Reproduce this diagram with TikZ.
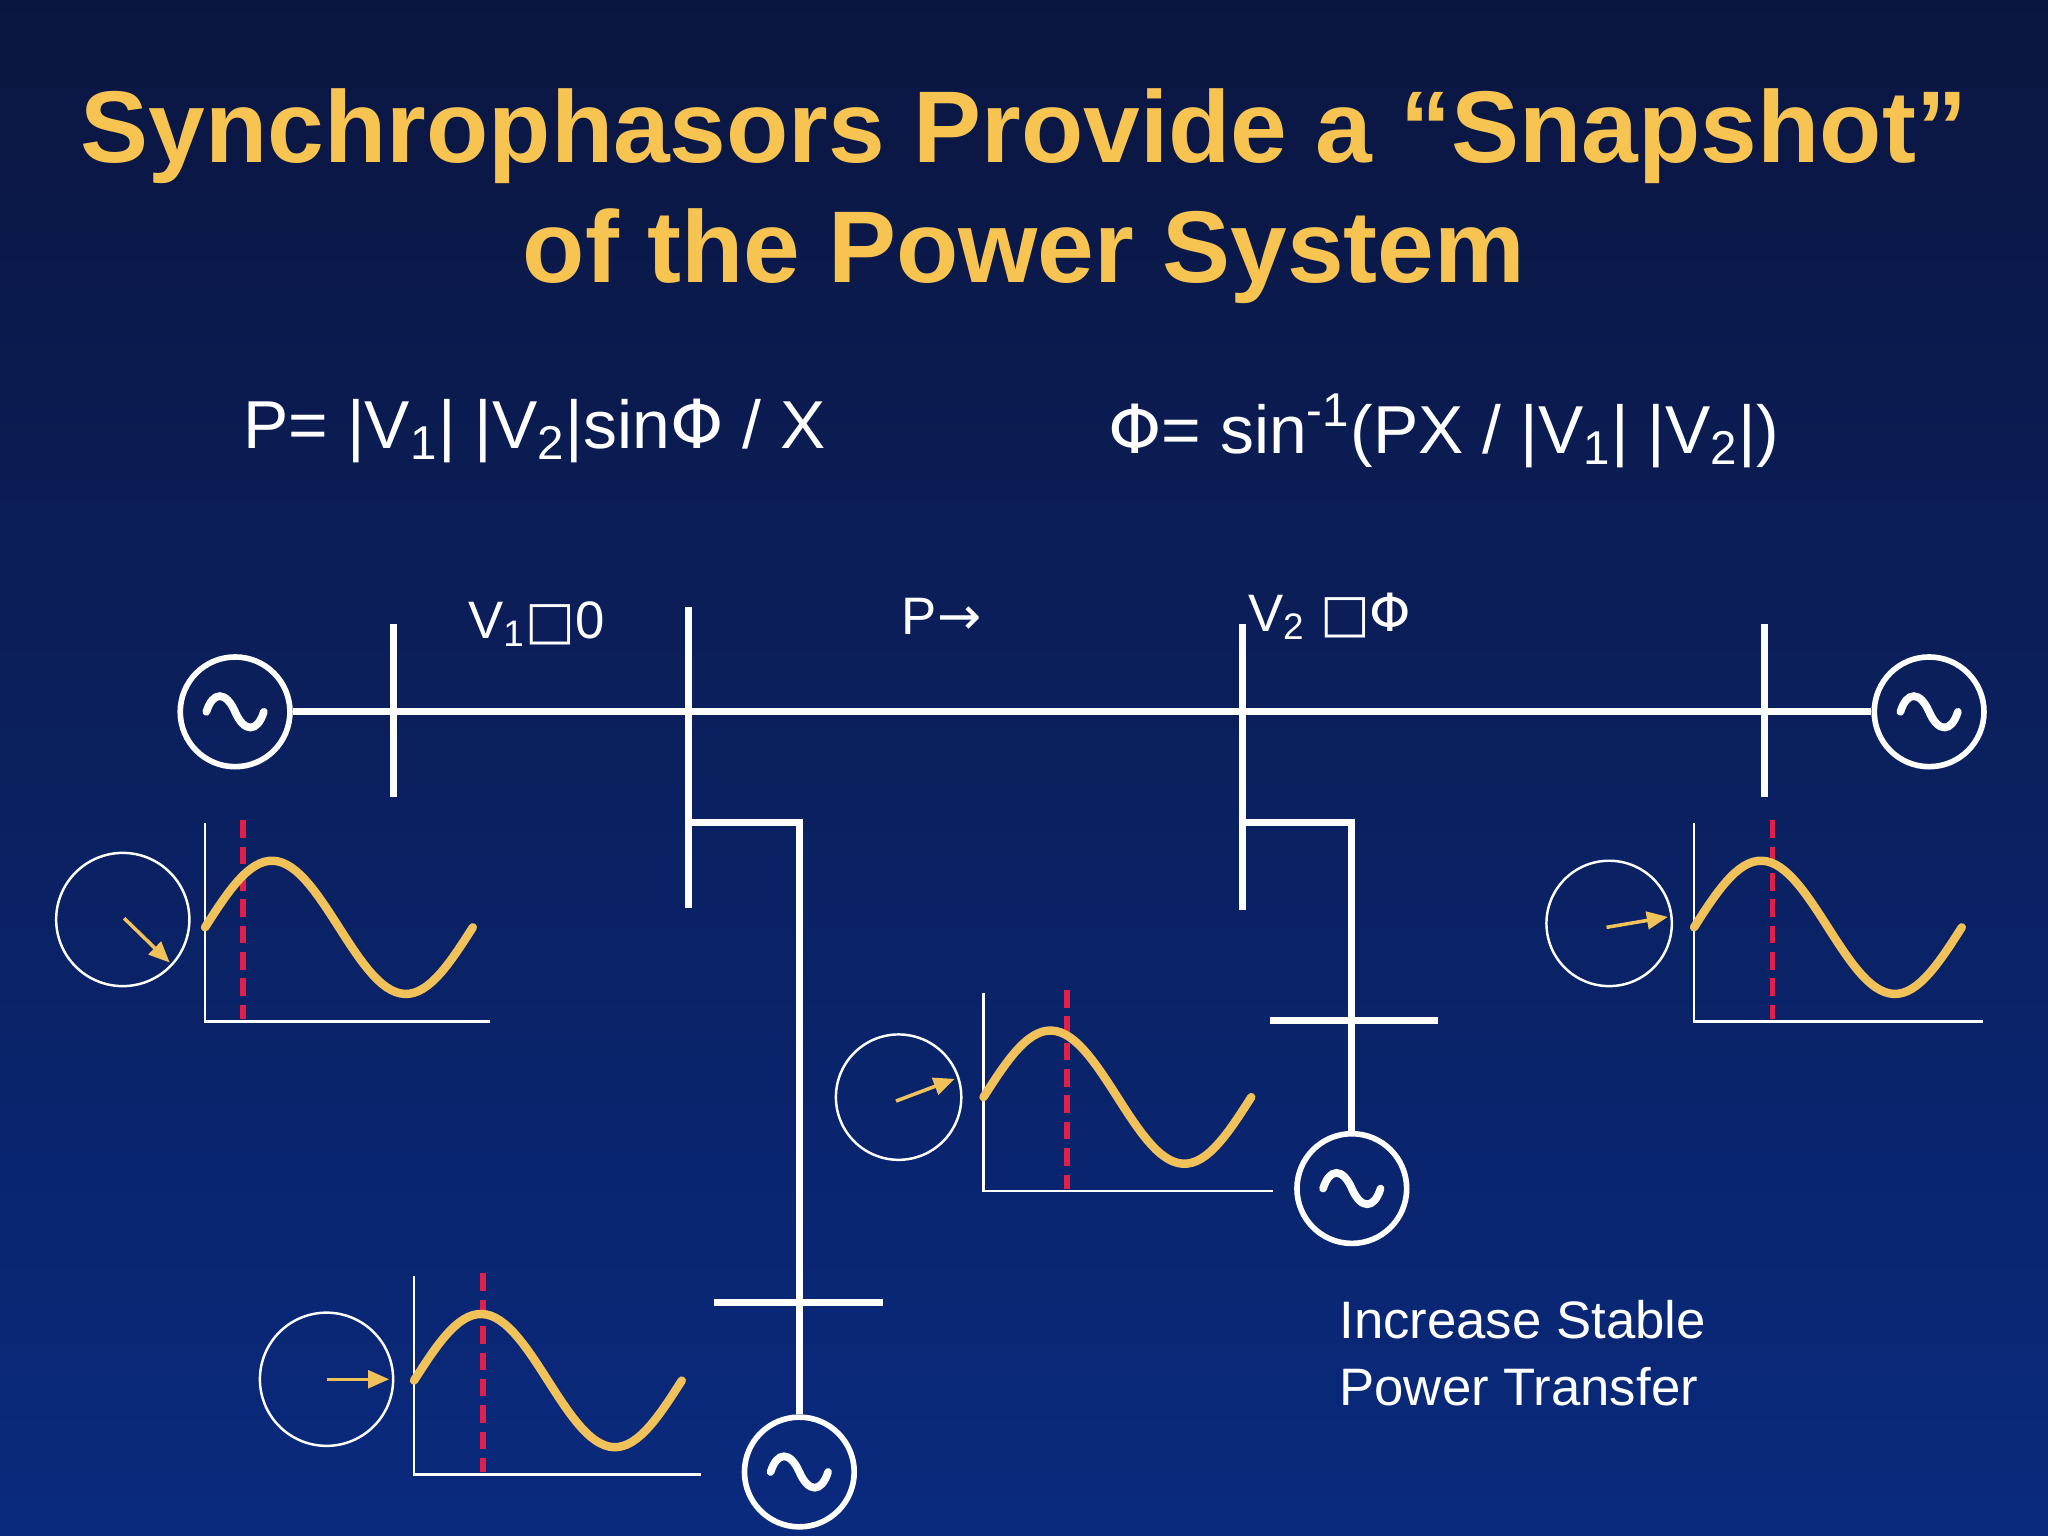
\documentclass[tikz,border=0pt]{standalone}
\usepackage{fontspec}
\setmainfont{Liberation Sans}
\newfontfamily\djv{DejaVu Sans}
\usetikzlibrary{arrows.meta}
\definecolor{ttl}{HTML}{F7C452}
\definecolor{wav}{HTML}{F2C25A}
\definecolor{bgtop}{HTML}{0B1640}
\definecolor{bgbot}{HTML}{0A2A7E}
\definecolor{rd}{HTML}{E0204A}
\tikzset{
 wire/.style={white,line width=2pt},
 gen/.style={circle,draw=white,line width=1.6pt,minimum size=84*0.01306cm,inner sep=0pt},
 ph/.style={circle,draw=white,line width=0.7pt,inner sep=0pt},
 axis/.style={white,line width=0.7pt},
 wave/.style={wav,line width=2.4pt,line cap=round},
 mark line/.style={rd,line width=1.6pt,dash pattern=on 5pt off 2.5pt},
 parr/.style={wav,line width=1pt,-{Triangle[length=6pt,width=5pt]}},
 lbl/.style={white,font=\fontsize{15}{17}\selectfont,inner sep=0pt,anchor=west},
}
\begin{document}
\begin{tikzpicture}[x=0.01306cm,y=-0.01306cm]
\shade[top color=bgtop,bottom color=bgbot] (0,0) rectangle (1568,1176);
\useasboundingbox (0,0) rectangle (1568,1176);
\node[ttl,font=\fontsize{29}{34}\bfseries\selectfont,align=center] (title) at (784,150) {Synchrophasors Provide a “Snapshot”\\of the Power System};
\node[lbl,font=\fontsize{19.3}{22}\selectfont] (f1) at (186,330) {P= |V\textsubscript{1}| |V\textsubscript{2}|sin{\djv Φ} / X};
\node[lbl,font=\fontsize{19.3}{22}\selectfont] (f2) at (848,330) {{\djv Φ}= sin\textsuperscript{-1}(PX / |V\textsubscript{1}| |V\textsubscript{2}|)};
% generators
\node[gen] (g1) at (180,545) {};
\node[gen] (g2) at (1477,545) {};
\node[gen] (g3) at (612,1127) {};
\node[gen] (g4) at (1035,910) {};
\foreach \g in {g1,g2,g3,g4}{
 \draw[white,line width=2.2pt,line cap=round] ([xshift=-22*0.01306cm]\g.center) .. controls +(5,-16) and +(-7,-16) .. (\g.center) .. controls +(7,16) and +(-5,16) .. ([xshift=22*0.01306cm]\g.center);
}
\draw[wire] (g1) -- (g2);
% bus bars
\draw[wire] (301,478) -- (301,610);
\draw[wire] (527,465) -- (527,695);
\draw[wire] (951,478) -- (951,697);
\draw[wire] (1351,478) -- (1351,610);
\coordinate (b1) at (527,630);
\coordinate (b2) at (951,630);
\draw[wire] (b1) -- (612,630) -- (g3);
\draw[wire] (547,997) -- (676,997);
\draw[wire] (b2) -- (1035,630) -- (g4);
\draw[wire] (972,781) -- (1101,781);
% labels
\node[lbl] (v1) at (358,478) {V\textsubscript{1}{\djv □}0};
\node[lbl] (p) at (690,472) {P{\djv →}};
\node[lbl] (v2) at (955,472) {V\textsubscript{2} {\djv □Φ}};
\node[lbl,align=left,anchor=north west] (inc) at (1025,995) {Increase Stable\\[2pt]Power Transfer};
% panels
\foreach \ax/\ay/\axe/\cx/\cy/\cr/\sx/\sy/\ex/\ey/\rx [count=\i] in {
 157/630/375/94/704/51/95/703/130/737/186,
 753/760/975/688/840/48/686/843/731/826/817,
 1297/630/1518/1232/707/48/1230/710/1277/702/1357,
 317/977/537/250/1056/51/250/1056/298/1056/370}{
 \draw[axis] (\ax,\ay) -- (\ax,\ay+152) -- (\axe,\ay+152);
 \draw[mark line] (\rx,\ay-2) -- (\rx,\ay+150);
 \draw[wave] plot[domain=0:205,samples=60] ({\ax+\x},{\ay+80-51*sin(\x/205*360)});
 \node[ph,minimum size=2*\cr*0.01306cm] (c\i) at (\cx,\cy) {};
 \draw[parr] (\sx,\sy) -- (\ex,\ey);
}
\end{tikzpicture}
\end{document}
